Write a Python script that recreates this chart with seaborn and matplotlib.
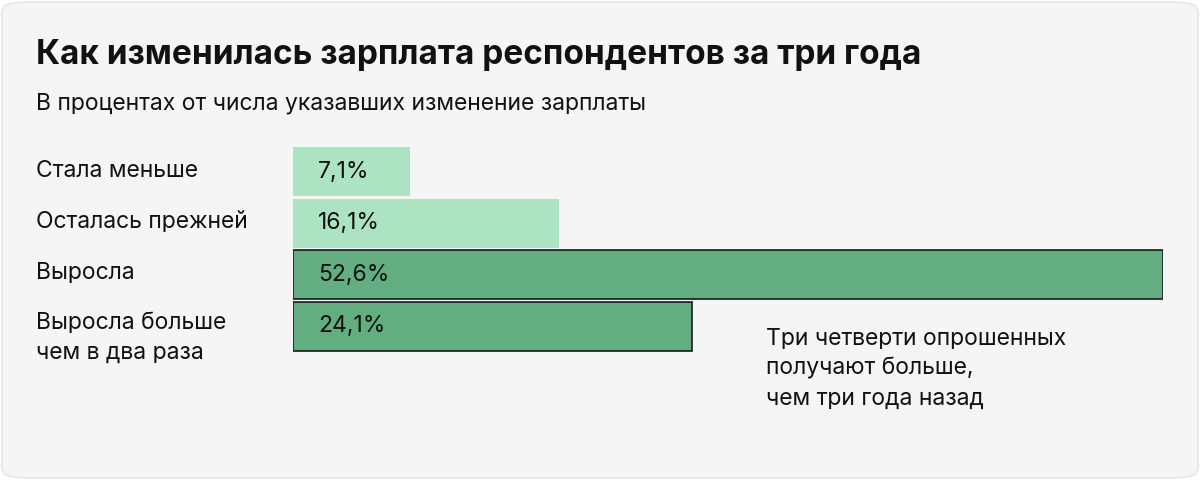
import matplotlib
matplotlib.use("Agg")
import matplotlib.pyplot as plt
from matplotlib.patches import FancyBboxPatch
import seaborn as sns
import pandas as pd

categories = ["Стала меньше", "Осталась прежней", "Выросла", "Выросла больше\nчем в два раза"]
values = [7.1, 16.1, 52.6, 24.1]
value_labels = ["7,1%", "16,1%", "52,6%", "24,1%"]
colors = ["#a3ecc0", "#a3ecc0", "#55bb7d", "#55bb7d"]
edges = ["none", "none", "#1a1a1a", "#1a1a1a"]

plt.rcParams["font.family"] = "Inter"
W, H = 1200, 480
fig = plt.figure(figsize=(12, 4.8), dpi=100)
fig.patch.set_facecolor("white")
bg = FancyBboxPatch((2 / W, 2 / H), 1 - 4 / W, 1 - 4 / H, boxstyle="round,pad=0,rounding_size=0.02",
                    transform=fig.transFigure, facecolor="#f5f5f5", edgecolor="#e3e3e3", lw=1, zorder=-10)
fig.patches.append(bg)

ax = fig.add_axes([293 / W, (480 - 352) / H, 870 / W, 206 / H])
ax.set_zorder(5)
df = pd.DataFrame({"cat": categories, "val": values})
sns.barplot(data=df, x="val", y="cat", orient="h", ax=ax, width=0.96, palette=colors, hue="cat", legend=False)
for p, e in zip(ax.patches, edges):
    if e != "none":
        p.set_edgecolor(e)
        p.set_linewidth(1.2)
ax.set_xlim(0, 52.6)
ax.set_ylim(3.5, -0.5)
ax.axis("off")
for i, lab in enumerate(value_labels):
    ax.text(1.5, i, lab, va="center", ha="left", fontsize=16.5, color="#111")

label_y = [171, 222, 273]
for i in range(3):
    fig.text(36 / W, 1 - label_y[i] / H, categories[i], fontsize=16.5, color="#111", va="center", ha="left")
fig.text(36 / W, 1 - 312 / H, categories[3], fontsize=16.5, color="#111", va="top", ha="left", linespacing=1.45)

fig.text(36 / W, 1 - 55 / H, "Как изменилась зарплата респондентов за три года", fontsize=24,
         fontweight="bold", va="center", ha="left", color="#111")
fig.text(36 / W, 1 - 103 / H, "В процентах от числа указавших изменение зарплаты", fontsize=16.5,
         va="center", ha="left", color="#111")
fig.text(766 / W, 1 - 328 / H, "Три четверти опрошенных\nполучают больше,\nчем три года назад",
         fontsize=16.5, va="top", ha="left", color="#111", linespacing=1.45)

fig.savefig("out.png", dpi=100, facecolor=fig.get_facecolor())
